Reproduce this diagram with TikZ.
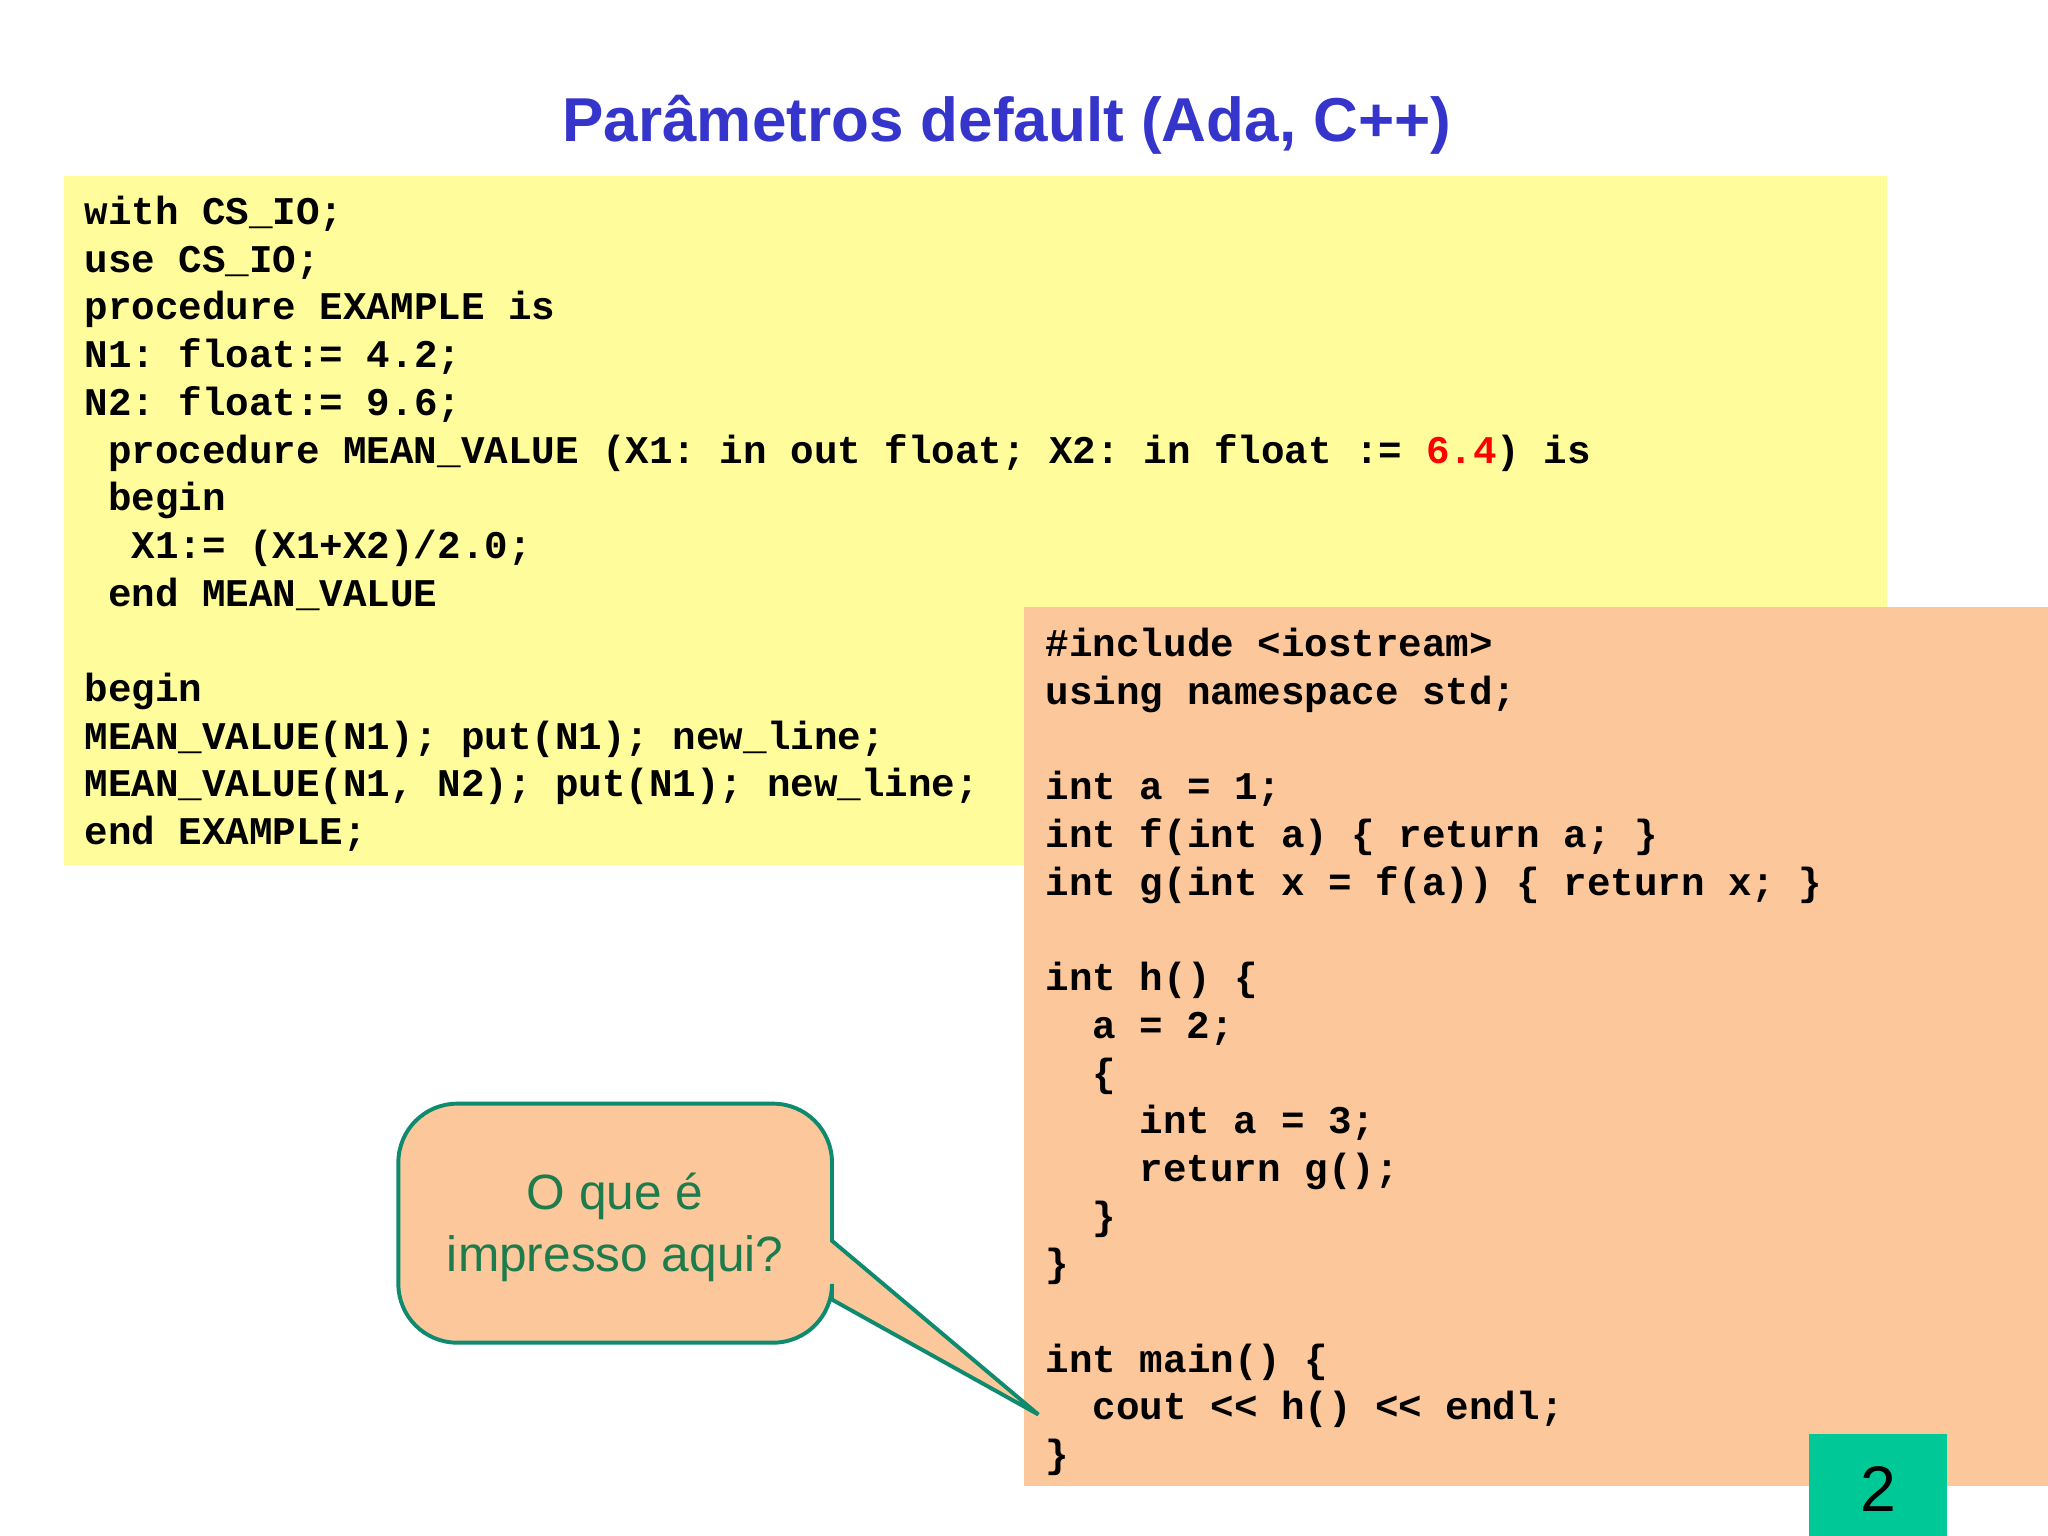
\documentclass[tikz,border=0pt]{standalone}
\usepackage{fontspec}
\setmainfont{Liberation Sans}
\setmonofont{Liberation Mono}
\definecolor{ttl}{HTML}{3535CC}
\definecolor{ylw}{HTML}{FFFD9B}
\definecolor{org}{HTML}{FCC89B}
\definecolor{teal2}{HTML}{0E8A6E}
\definecolor{txtg}{HTML}{1E7B4B}
\definecolor{grn}{HTML}{00C896}
\tikzset{code/.style={anchor=base west,inner sep=0pt,font=\ttfamily\bfseries\fontsize{8.54pt}{10pt}\selectfont}}
\begin{document}
\begin{tikzpicture}[x=0.01cm,y=-0.01cm]
\useasboundingbox (0,0) rectangle (1568,1176);
\fill[white] (0,0) rectangle (1568,1176);
\node[font=\bfseries\fontsize{13.5pt}{16pt}\selectfont,text=ttl,anchor=base,inner sep=0pt] (title) at (771,108) {Parâmetros default (Ada, C++)};
\fill[ylw] (49,135) rectangle (1445,662);
\node[code] (a0) at (64,172.0) {with CS\_IO;};
\node[code] (a1) at (64,208.5) {use CS\_IO;};
\node[code] (a2) at (64,245.0) {procedure EXAMPLE is};
\node[code] (a3) at (64,281.5) {N1: float:= 4.2;};
\node[code] (a4) at (64,318.0) {N2: float:= 9.6;};
\node[code] (a5) at (82,354.5) {procedure MEAN\_VALUE (X1: in out float; X2: in float := \textcolor{red}{6.4}) is};
\node[code] (a6) at (82,391.0) {begin};
\node[code] (a7) at (100,427.5) {X1:= (X1+X2)/2.0;};
\node[code] (a8) at (82,464.0) {end MEAN\_VALUE};
\node[code] (a10) at (64,537.0) {begin};
\node[code] (a11) at (64,573.5) {MEAN\_VALUE(N1); put(N1); new\_line;};
\node[code] (a12) at (64,610.0) {MEAN\_VALUE(N1, N2); put(N1); new\_line;};
\node[code] (a13) at (64,646.5) {end EXAMPLE;};
\fill[org] (784,465) rectangle (1568,1138);
\node[code] (b0) at (800,503.0) {\#include <iostream>};
\node[code] (b1) at (800,539.5) {using namespace std;};
\node[code] (b3) at (800,612.5) {int a = 1;};
\node[code] (b4) at (800,649.0) {int f(int a) \{ return a; \}};
\node[code] (b5) at (800,685.5) {int g(int x = f(a)) \{ return x; \}};
\node[code] (b7) at (800,758.5) {int h() \{};
\node[code] (b8) at (836,795.0) {a = 2;};
\node[code] (b9) at (836,831.5) {\{};
\node[code] (b10) at (872,868.0) {int a = 3;};
\node[code] (b11) at (872,904.5) {return g();};
\node[code] (b12) at (836,941.0) {\}};
\node[code] (b13) at (800,977.5) {\}};
\node[code] (b15) at (800,1050.5) {int main() \{};
\node[code] (b16) at (836,1087.0) {cout << h() << endl;};
\node[code] (b17) at (800,1123.5) {\}};
\fill[grn] (1385,1098) rectangle (1491,1176);
\node[font=\fontsize{14pt}{16pt}\selectfont] (num) at (1438,1140) {2};
\coordinate (tip) at (795,1083);
\draw[teal2,line width=0.03cm,fill=org] (637,950) [rounded corners=0.45cm] -- (637,845) -- (305,845) -- (305,1028) -- (637,1028) [sharp corners] -- (637,995) -- (tip) -- cycle;
\node[text=txtg,font=\fontsize{10.8pt}{13.5pt}\selectfont,align=center] (q) at (471,940) {O que é\\impresso aqui?};
\end{tikzpicture}
\end{document}
